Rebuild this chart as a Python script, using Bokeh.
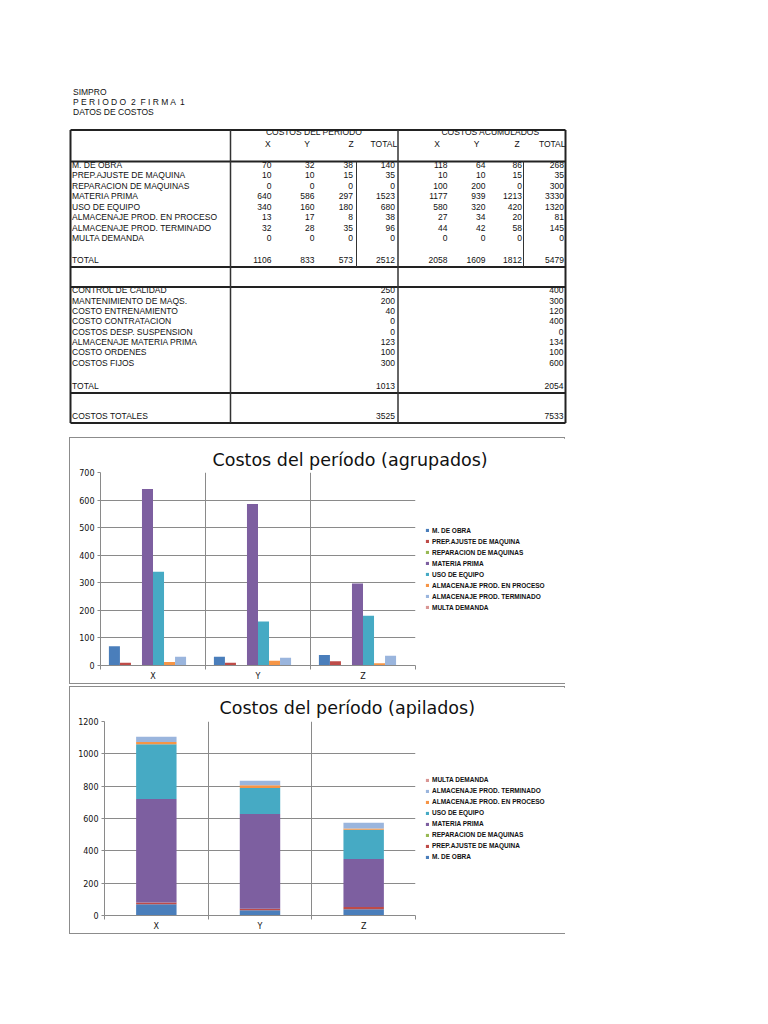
from bokeh.plotting import figure
from bokeh.models import Range1d, FixedTicker, Legend, LegendItem, Title, ColumnDataSource
from bokeh.embed import file_html
from bokeh.resources import INLINE
from bokeh.core.properties import value

# ---------------- data ----------------
header_lines = ["SIMPRO", "P E R I O D O \u00a02 \u00a0F I R M A \u00a01", "DATOS DE COSTOS"]
col_heads = ["X", "Y", "Z", "TOTAL"]
categories = ["X", "Y", "Z"]

cost_rows = ["M. DE OBRA", "PREP.AJUSTE DE MAQUINA", "REPARACION DE MAQUINAS", "MATERIA PRIMA",
             "USO DE EQUIPO", "ALMACENAJE PROD. EN PROCESO", "ALMACENAJE PROD. TERMINADO", "MULTA DEMANDA"]
per_x = [70, 10, 0, 640, 340, 13, 32, 0]
per_y = [32, 10, 0, 586, 160, 17, 28, 0]
per_z = [38, 15, 0, 297, 180, 8, 35, 0]
per_total = [140, 35, 0, 1523, 680, 38, 96, 0]
acc_x = [118, 10, 100, 1177, 580, 27, 44, 0]
acc_y = [64, 10, 200, 939, 320, 34, 42, 0]
acc_z = [86, 15, 0, 1213, 420, 20, 58, 0]
acc_total = [268, 35, 300, 3330, 1320, 81, 145, 0]
per_totals = [1106, 833, 573, 2512]
acc_totals = [2058, 1609, 1812, 5479]

other_rows = ["CONTROL DE CALIDAD", "MANTENIMIENTO DE MAQS.", "COSTO ENTRENAMIENTO", "COSTO CONTRATACION",
              "COSTOS DESP. SUSPENSION", "ALMACENAJE MATERIA PRIMA", "COSTO ORDENES", "COSTOS FIJOS"]
other_per = [250, 200, 40, 0, 0, 123, 100, 300]
other_acc = [400, 300, 120, 400, 0, 134, 100, 600]
other_totals = [1013, 2054]
grand_totals = [3525, 7533]

colors = ["#4A7EBB", "#BE4B48", "#98B954", "#7D5FA0", "#46AAC4", "#F69546", "#9AB5DD", "#D99694"]

TF = "Liberation Sans"
CF = "DejaVu Sans"
GRID = "#8a8a8a"
W = 752

# ---------------- table figure (page pixel coordinates) ----------------
pt = figure(width=W, height=432, x_range=Range1d(0, W), y_range=Range1d(432, 0),
            x_axis_type=None, y_axis_type=None, output_backend="svg", toolbar_location=None,
            min_border=0)
pt.grid.visible = False
pt.outline_line_color = None


def txt(xs, ys, texts, align="left", size="8.5px"):
    pt.text(x=xs, y=ys, text=[str(t) for t in texts], text_align=align, text_baseline="middle",
            text_font=value(TF), text_font_size=size, text_color="#111111")


txt([72.5] * 3, [91.5, 101.5, 111.5], header_lines)
txt([313.5, 490], [131.5, 131.5], ["COSTOS DEL PERIODO", "COSTOS ACUMULADOS"], align="center")
txt([267.3, 306.7, 350.7, 383.3, 436.7, 476, 516.7, 551.7], [143.5] * 8, col_heads + col_heads, align="center")

row_y = [164.5 + i * 10.45 for i in range(len(cost_rows))]
txt([71.5] * len(cost_rows), row_y, cost_rows)
rights = [271, 314, 352.5, 394.5, 447, 485, 521.5, 563.5]
for r, vals in zip(rights, [per_x, per_y, per_z, per_total, acc_x, acc_y, acc_z, acc_total]):
    txt([r] * len(vals), row_y, vals, align="right")
txt([71.5], [259], ["TOTAL"])
txt(rights, [259] * 8, per_totals + acc_totals, align="right")

orow_y = [289.8 + i * 10.35 for i in range(len(other_rows))]
txt([71.5] * len(other_rows), orow_y, other_rows)
txt([394.5] * len(other_per), orow_y, other_per, align="right")
txt([563] * len(other_acc), orow_y, other_acc, align="right")
txt([71.5], [385], ["TOTAL"])
txt([394.5, 563], [385, 385], other_totals, align="right")
txt([71.5], [415], ["COSTOS TOTALES"])
txt([394.5, 563], [415, 415], grand_totals, align="right")

# table rules
thick = dict(x0=[70, 70, 70, 565, 70, 70, 70, 70], y0=[129.5, 422.5, 129.5, 129.5, 161, 266.5, 286.5, 392.5],
             x1=[565, 565, 70, 565, 565, 565, 565, 565], y1=[129.5, 422.5, 422.5, 422.5, 161, 266.5, 286.5, 392.5])
pt.segment(line_color="#222222", line_width=2, **thick)
pt.segment(x0=[230, 397.5], y0=[129.5, 129.5], x1=[230, 397.5], y1=[422.5, 422.5], line_color="#333333", line_width=1.5)
pt.segment(x0=[356, 523], y0=[161, 161], x1=[356, 523], y1=[266.5, 266.5], line_color="#333333", line_width=1)


# ---------------- charts ----------------
def base_chart(title, ymax, ystep, left, fw, fh, top, title_offset, standoff, margin_top):
    p = figure(frame_width=fw, frame_height=fh, x_range=Range1d(0, len(categories)), y_range=Range1d(0, ymax),
               output_backend="svg", toolbar_location=None,
               min_border_left=left, min_border_right=149, min_border_top=top, min_border_bottom=8,
               styles={"border": "1px solid #8c8c8c", "margin-left": "69px", "margin-top": margin_top,
                       "max-width": "496px"})
    p.title = Title(text=title, align="left", offset=title_offset, text_font=CF, text_font_size="17.5px",
                    text_font_style="normal", text_color="#111111", standoff=standoff)
    p.outline_line_color = None
    p.xaxis.ticker = FixedTicker(ticks=[i + 0.5 for i in range(len(categories))],
                                 minor_ticks=list(range(len(categories) + 1)))
    p.xaxis.major_label_overrides = {i + 0.5: c for i, c in enumerate(categories)}
    p.xaxis.major_tick_line_color = None
    p.xaxis.major_tick_out = 0
    p.xaxis.major_tick_in = 0
    p.xaxis.minor_tick_in = 0
    p.xaxis.minor_tick_out = 4
    p.xaxis.minor_tick_line_color = GRID
    p.xaxis.axis_line_color = GRID
    p.xaxis.major_label_standoff = 2
    p.xaxis.axis_label_standoff = 0
    p.yaxis.ticker = FixedTicker(ticks=list(range(0, ymax + 1, ystep)))
    p.yaxis.minor_tick_line_color = None
    p.yaxis.major_tick_in = 0
    p.yaxis.major_tick_out = 3
    p.yaxis.major_tick_line_color = GRID
    p.yaxis.axis_line_color = GRID
    p.yaxis.major_label_standoff = 3
    for ax in (p.xaxis, p.yaxis):
        ax.major_label_text_font = CF
        ax.major_label_text_font_size = "8px"
        ax.major_label_text_color = "#111111"
    p.xgrid.ticker = FixedTicker(ticks=list(range(1, len(categories))))
    p.xgrid.grid_line_color = GRID
    p.ygrid.grid_line_color = GRID
    return p


def make_legend(items):
    return Legend(items=items, location="center_left", orientation="vertical",
                  label_text_font=TF, label_text_font_size="6.5px", label_text_font_style="bold",
                  label_text_color="#111111", glyph_width=4, glyph_height=4, label_standoff=3,
                  label_height=11, spacing=0, padding=0, margin=10,
                  border_line_color=None, background_fill_alpha=0)


series_vals = [[per_x[k], per_y[k], per_z[k]] for k in range(len(cost_rows))]
n = len(cost_rows)

# grouped
p1 = base_chart("Costos del período (agrupados)", 700, 100, 30, 315, 193, 34, 112, 6, "5px")
bw = 0.105
items1 = []
for k, name in enumerate(cost_rows):
    xs = [ci + 0.5 + (k - (n - 1) / 2) * bw for ci in range(len(categories))]
    r = p1.vbar(x=xs, top=series_vals[k], bottom=0, width=bw, fill_color=colors[k], line_color=None)
    items1.append(LegendItem(label=name, renderers=[r]))
p1.add_layout(make_legend(items1), "right")

# stacked
p2 = base_chart("Costos del período (apilados)", 1200, 200, 34, 311, 194, 34, 115, 8, "2px")
keys = ["s%d" % k for k in range(n)]
data = {"x": [ci + 0.5 for ci in range(len(categories))]}
for k in range(n):
    data[keys[k]] = series_vals[k]
src = ColumnDataSource(data)
rs = p2.vbar_stack(keys, x="x", width=0.39, color=colors, line_color=None, source=src)
items2 = [LegendItem(label=cost_rows[k], renderers=[rs[k]]) for k in reversed(range(n))]
p2.add_layout(make_legend(items2), "right")

open("out.html", "w").write(file_html([pt, p1, p2], INLINE))
